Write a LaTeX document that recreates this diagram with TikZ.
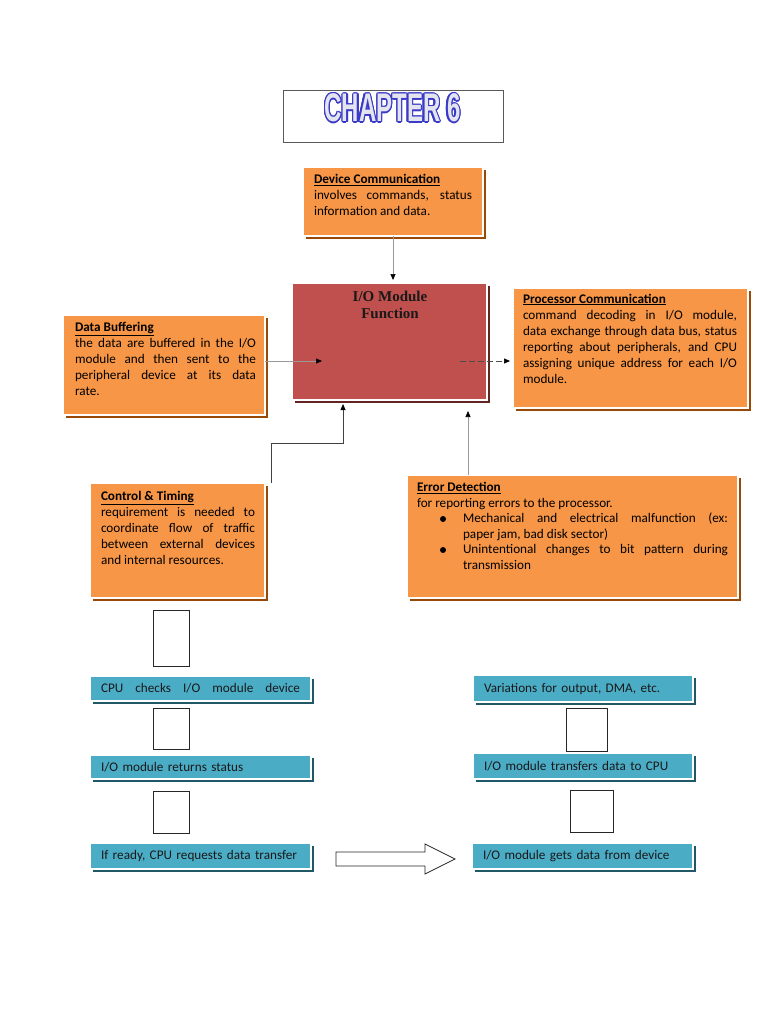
\documentclass[tikz,border=0pt]{standalone}
\usepackage{fontspec}
\setmainfont{Carlito}
\newfontfamily\iofont{Liberation Serif}
\newfontfamily\chapfont{Liberation Sans}
\usepackage{graphicx}
\usetikzlibrary{arrows.meta,shadows}
\definecolor{ofill}{HTML}{F79646}
\definecolor{oshadow}{HTML}{984807}
\definecolor{rfill}{HTML}{C0504D}
\definecolor{rshadow}{HTML}{632523}
\definecolor{bfill}{HTML}{4BACC6}
\definecolor{bshadow}{HTML}{205867}
\definecolor{chapblue}{HTML}{3A3AC8}
\definecolor{chapfill}{HTML}{E4E4EE}
\tikzset{
  obox/.style={rectangle, inner sep=0pt, outer sep=0pt, anchor=north west,
    general shadow={fill=oshadow, shadow xshift=3pt, shadow yshift=-3pt},
    preaction={draw=black!22, line width=2.8pt},
    fill=ofill, draw=white, line width=2pt},
  rbox/.style={rectangle, inner sep=0pt, outer sep=0pt, anchor=north west,
    general shadow={fill=rshadow, shadow xshift=3pt, shadow yshift=-3pt},
    preaction={draw=black!22, line width=2.8pt},
    fill=rfill, draw=white, line width=2pt},
  bbox/.style={rectangle, inner sep=0pt, inner xsep=11pt, outer sep=0pt, anchor=north west,
    general shadow={fill=bshadow, shadow xshift=3pt, shadow yshift=-3pt},
    preaction={draw=black!22, line width=2.8pt},
    fill=bfill, draw=white, line width=2pt,
    minimum width=221pt, minimum height=25pt, text width=199pt, align=left,
    font=\fontsize{13.2}{16}\selectfont, text=black!90},
  txt/.style={anchor=north west, inner sep=0pt, outer sep=0pt, align=justify,
    font=\fontsize{13.2}{16}\selectfont, text=black},
  smallbox/.style={rectangle, draw=black!85, line width=0.8pt, fill=white,
    inner sep=0pt, outer sep=0pt, anchor=north west},
  chaptxt/.style={inner sep=0pt, outer sep=0pt, font=\chapfont\bfseries\fontsize{40}{40}\selectfont},
  conn/.style={draw=black!40, line width=0.7pt, -{Triangle[length=6pt,width=5pt,color=black]}},
  darkconn/.style={draw=black!75, line width=0.8pt, -{Triangle[length=6pt,width=5pt,color=black]}},
  dashconn/.style={draw=black!70, line width=0.7pt, dash pattern=on 6pt off 3pt, -{Triangle[length=6pt,width=5pt,color=black]}},
  dot/.style={circle, fill=black, inner sep=0pt, minimum size=6pt},
  blockarrow/.style={draw=black!85, line width=0.8pt, fill=white}
}
\begin{document}
\begin{tikzpicture}[x=1pt,y=-1pt]
\useasboundingbox (0,0) rectangle (768,1024);
\fill[white] (0,0) rectangle (768,1024);

% title
\node[draw=black!65, line width=0.9pt, fill=white, minimum width=220pt, minimum height=52pt,
      anchor=north west, inner sep=0pt, outer sep=0pt] (chapbox) at (283,90) {};
\foreach \a [count=\i] in {0,30,...,330}
  \node[chaptxt, text=chapblue] (chapo\i) at ([shift={(\a:1.4)}]392.5,108) {\scalebox{0.6}[1]{CHAPTER 6}};
\node[chaptxt, text=chapfill] (chap) at (392.5,108) {\scalebox{0.6}[1]{CHAPTER 6}};

% orange / red boxes
\node[obox, minimum width=180pt, minimum height=69pt] (dc) at (303,167) {};
\node[txt, text width=158pt] (dct) at (314,172.5)
  {\strut\underline{\textbf{Device Communication}}\\ involves commands, status\linebreak information and data.};

\node[rbox, minimum width=195pt, minimum height=117pt] (io) at (292,283) {};
\node[font=\iofont\bfseries\fontsize{15}{17}\selectfont, align=center, text=black!90,
      anchor=north, inner sep=0pt] (iot) at (390,291) {I/O Module\\Function};

\node[obox, minimum width=202pt, minimum height=100pt] (db) at (63,315) {};
\node[txt, text width=181pt] (dbt) at (75,320)
  {\strut\underline{\textbf{Data Buffering}}\\ the data are buffered in the I/O\linebreak module and then sent to the\linebreak peripheral device at its data\linebreak rate.};

\node[obox, minimum width=235pt, minimum height=120pt] (pc) at (513,288) {};
\node[txt, text width=214pt] (pct) at (523,292)
  {\strut\underline{\textbf{Processor Communication}}\\ command decoding in I/O module,\linebreak data exchange through data bus, status\linebreak reporting about peripherals, and CPU\linebreak assigning unique address for each I/O\linebreak module.};

\node[obox, minimum width=175pt, minimum height=115pt] (ct) at (90,483) {};
\node[txt, text width=154pt] (ctt) at (101,489)
  {\strut\underline{\textbf{Control \& Timing}}\\ requirement is needed to\linebreak coordinate flow of traffic\linebreak between external devices\linebreak and internal resources.};

\node[obox, minimum width=331pt, minimum height=123pt] (ed) at (407,475) {};
\node[txt, text width=311pt] (edt) at (417,480)
  {\strut\underline{\textbf{Error Detection}}\\ for reporting errors to the processor.};
\node[dot] (edd1) at (443,519) {};
\node[txt, text width=265pt] (edb1) at (463,511.5)
  {\strut Mechanical and electrical malfunction (ex:\linebreak paper jam, bad disk sector)};
\node[dot] (edd2) at (443,550) {};
\node[txt, text width=265pt] (edb2) at (463,542.5)
  {\strut Unintentional changes to bit pattern during\linebreak transmission};

% connectors
\draw[conn] (dc.south) -- ([yshift=3pt]dc.south |- io.north);
\coordinate (dbin) at (322,361);
\draw[conn] (db.east |- dbin) -- (dbin);
\coordinate (ioout) at (460,361);
\draw[dashconn] (ioout) -- ([xshift=-3pt]pc.west |- ioout);
\coordinate (ctup) at (271,483);
\coordinate (ctbend) at (343,443);
\draw[darkconn] (ctup) |- (ctbend) -- ([yshift=-4pt]ctbend |- io.south);
\coordinate (edx) at (468,0);
\draw[conn] (edx |- ed.north) -- ([yshift=-11pt]edx |- io.south);

% bottom flow: left column
\node[smallbox, minimum width=36pt, minimum height=56pt] (r1) at (153,610) {};
\node[bbox] (b1) at (90,676) {\hbox to 199pt{CPU\hfill checks\hfill I/O\hfill module\hfill device}};
\node[smallbox, minimum width=36pt, minimum height=41pt] (r2) at (153,708) {};
\node[bbox, minimum height=24pt] (b2) at (90,755) {I/O module returns status};
\node[smallbox, minimum width=36pt, minimum height=42pt] (r3) at (153,791) {};
\node[bbox, minimum height=26pt] (b3) at (90,843) {If ready, CPU requests data transfer};

% bottom flow: right column
\node[bbox, minimum width=220pt, text width=198pt, minimum height=27pt] (b4) at (473,675) {Variations for output, DMA, etc.};
\node[smallbox, minimum width=41pt, minimum height=43pt] (r4) at (566,708) {};
\node[bbox, minimum width=220pt, text width=198pt, minimum height=26pt] (b5) at (473,753) {I/O module transfers data to CPU};
\node[smallbox, minimum width=43pt, minimum height=42pt] (r5) at (570,790) {};
\node[bbox, minimum width=221pt, text width=199pt, minimum height=26pt] (b6) at (472,843) {I/O module gets data from device};

% block arrow
\draw[blockarrow] (336,852) -- (425,852) -- (425,844) -- (455,859) -- (425,874) -- (425,866) -- (336,866) -- cycle;
\end{tikzpicture}
\end{document}
